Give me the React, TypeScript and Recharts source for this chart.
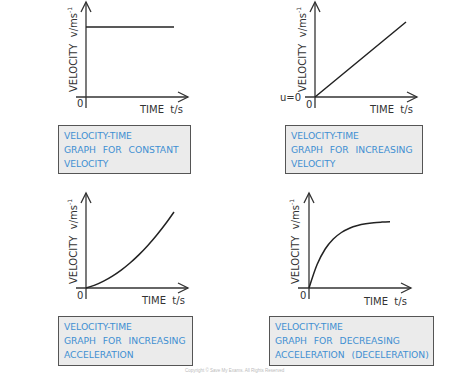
import React from "react";
import { LineChart, Line, XAxis, YAxis, ReferenceLine } from "recharts";

// time samples shared by all four sketches
const times = [0, 1, 2, 3, 4, 5, 6, 7, 8, 9, 10];

// velocity values
const constantV = [7, 7, 7, 7, 7, 7, 7, 7, 7, 7, 7];
const increasingV = [0, 0.75, 1.5, 2.25, 3, 3.75, 4.5, 5.25, 6, 6.75, 7.5];
const accelV = [0, 0.29, 0.69, 1.19, 1.79, 2.5, 3.31, 4.23, 5.25, 6.37, 7.6];
const decelV = [0, 2.35, 3.9, 4.9, 5.55, 5.98, 6.25, 6.42, 6.53, 6.59, 6.63];

const captions = [
  ["VELOCITY-TIME", "GRAPH FOR CONSTANT", "VELOCITY"],
  ["VELOCITY-TIME", "GRAPH FOR INCREASING", "VELOCITY"],
  ["VELOCITY-TIME", "GRAPH FOR INCREASING", "ACCELERATION"],
  ["VELOCITY-TIME", "GRAPH FOR DECREASING", "ACCELERATION (DECELERATION)"],
];

const INK = "#333";
const BLUE = "#3f8fd2";
const FONT = "'DejaVu Sans', sans-serif";
const PAD = 6;

const toRows = (v: number[]) => times.map((t, i) => ({ t, v: v[i] }));

type ArrowProps = { x1?: number; y1?: number; x2?: number; y2?: number };

// axis line with an open arrow head at its far end
const ArrowAxis = (p: ArrowProps) => {
  const x1 = p.x1 ?? 0, y1 = p.y1 ?? 0, x2 = p.x2 ?? 0, y2 = p.y2 ?? 0;
  const len = Math.hypot(x2 - x1, y2 - y1) || 1;
  const ux = (x2 - x1) / len, uy = (y2 - y1) / len;
  const back = 10, half = 5;
  const ax = x2 - ux * back, ay = y2 - uy * back;
  return (
    <g>
      <line x1={x1} y1={y1} x2={x2} y2={y2} stroke={INK} strokeWidth={1.3} />
      <polyline
        points={`${ax - uy * half},${ay + ux * half} ${x2},${y2} ${ax + uy * half},${ay - ux * half}`}
        fill="none"
        stroke={INK}
        strokeWidth={1.3}
      />
    </g>
  );
};

type PanelProps = {
  left: number;
  right: number;
  top: number;
  bottom: number;
  ox: number;
  oy: number;
  sx: number;
  sy: number;
  values: number[];
};

function Panel({ left, right, top, bottom, ox, oy, sx, sy, values }: PanelProps) {
  const xDomain = [(left - ox) / sx, (right - ox) / sx];
  const yDomain = [(oy - bottom) / sy, (oy - top) / sy];
  return (
    <div style={{ position: "absolute", left: left - PAD, top: top - PAD }}>
      <LineChart
        width={right - left + PAD * 2}
        height={bottom - top + PAD * 2}
        data={toRows(values)}
        margin={{ top: PAD, right: PAD, bottom: PAD, left: PAD }}
      >
        <XAxis dataKey="t" type="number" domain={xDomain} hide />
        <YAxis type="number" domain={yDomain} hide />
        <ReferenceLine
          segment={[{ x: xDomain[0], y: 0 }, { x: xDomain[1], y: 0 }]}
          shape={ArrowAxis}
        />
        <ReferenceLine
          segment={[{ x: 0, y: yDomain[0] }, { x: 0, y: yDomain[1] }]}
          shape={ArrowAxis}
        />
        <Line
          dataKey="v"
          type="monotone"
          stroke="#222"
          strokeWidth={1.5}
          dot={false}
          isAnimationActive={false}
        />
      </LineChart>
    </div>
  );
}

const txt = (x: number, y: number, s: string, extra: React.CSSProperties = {}) => (
  <div
    style={{
      position: "absolute",
      left: x,
      top: y,
      fontFamily: FONT,
      fontSize: 10,
      color: INK,
      whiteSpace: "pre",
      lineHeight: "12px",
      ...extra,
    }}
  >
    {s}
  </div>
);

// rotated y-axis title, anchored at its bottom-centre point
const yTitle = (cx: number, by: number) => (
  <div
    style={{
      position: "absolute",
      left: cx,
      top: by,
      transform: "rotate(-90deg)",
      transformOrigin: "0 0",
      fontFamily: FONT,
      fontSize: 10,
      color: INK,
      whiteSpace: "pre",
      lineHeight: "12px",
      marginLeft: -6,
    }}
  >
    {"VELOCITY  v/ms"}
    <span style={{ fontSize: 6, verticalAlign: "5px" }}>-1</span>
  </div>
);

const captionBox = (x: number, y: number, w: number, h: number, lines: string[]) => (
  <div
    style={{
      position: "absolute",
      left: x,
      top: y,
      width: w,
      height: h,
      boxSizing: "border-box",
      border: "1.5px solid #555",
      background: "#ebebeb",
      padding: "3px 0 0 5px",
      fontFamily: FONT,
      fontSize: 9.2,
      color: BLUE,
      lineHeight: "14px",
      whiteSpace: "pre",
      wordSpacing: 4,
    }}
  >
    {lines.map((l, i) => (
      <div key={i}>{l}</div>
    ))}
  </div>
);

export default function App() {
  return (
    <div
      style={{
        position: "absolute",
        left: 0,
        top: 0,
        width: 474,
        height: 376,
        background: "#fff",
        overflow: "hidden",
      }}
    >
      <Panel left={76} right={188} top={2} bottom={108} ox={86} oy={97} sx={8.8} sy={10} values={constantV} />
      <Panel left={305} right={417} top={2} bottom={108} ox={315} oy={97} sx={9.1} sy={10} values={increasingV} />
      <Panel left={76} right={188} top={193} bottom={299} ox={86} oy={288} sx={8.8} sy={10} values={accelV} />
      <Panel left={298} right={411} top={193} bottom={299} ox={309} oy={288} sx={8.1} sy={10} values={decelV} />

      {yTitle(70, 92)}
      {yTitle(299, 92)}
      {yTitle(70, 284)}
      {yTitle(292, 284)}

      {txt(77, 98, "0")}
      {txt(306, 99, "0")}
      {txt(280, 92, "u=0")}
      {txt(77, 290, "0")}
      {txt(300, 290, "0")}

      {txt(140, 104, "TIME  t/s")}
      {txt(370, 104, "TIME  t/s")}
      {txt(142, 295, "TIME  t/s")}
      {txt(364, 296, "TIME  t/s")}

      {captionBox(58, 125, 133, 49, captions[0])}
      {captionBox(285, 125, 138, 49, captions[1])}
      {captionBox(58, 316, 135, 50, captions[2])}
      {captionBox(269, 316, 165, 50, captions[3])}

      {txt(185, 365, "Copyright © Save My Exams. All Rights Reserved", {
        fontSize: 4.5,
        color: "#bbb",
        fontFamily: "'Liberation Sans', sans-serif",
      })}
    </div>
  );
}
